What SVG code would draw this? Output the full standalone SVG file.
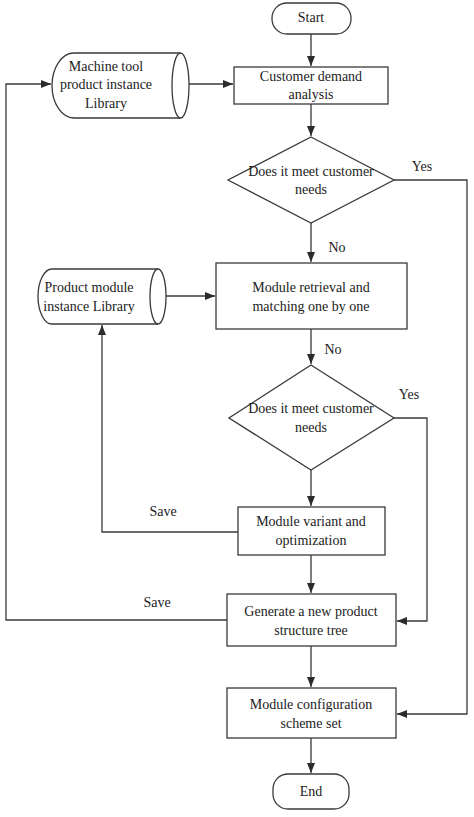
<svg xmlns="http://www.w3.org/2000/svg" width="474" height="817" viewBox="0 0 474 817" font-family="'Liberation Serif', 'Times New Roman', serif">
<style>
.s{fill:#fff;stroke:#3a3a3a;stroke-width:1.3}
.c{fill:none;stroke:#3a3a3a;stroke-width:1.3}
.t{font-family:"Liberation Serif","Times New Roman",serif;font-size:14px;fill:#222;text-anchor:middle}
</style>
<defs>
<marker id="ah" viewBox="0 0 10 8" refX="10" refY="4" markerWidth="10" markerHeight="8" markerUnits="userSpaceOnUse" orient="auto">
<path d="M0,0 L10,4 L0,8 z" fill="#2b2b2b"/>
</marker>
</defs>
<rect width="474" height="817" fill="#fff"/>
<g id="connectors">
<path class="c" d="M311,34 V66" marker-end="url(#ah)"/>
<path class="c" d="M189,84 H233" marker-end="url(#ah)"/>
<path class="c" d="M311,104 V136" marker-end="url(#ah)"/>
<path class="c" d="M311,223 V262" marker-end="url(#ah)"/>
<path class="c" d="M166,296 H215" marker-end="url(#ah)"/>
<path class="c" d="M311,329 V364" marker-end="url(#ah)"/>
<path class="c" d="M311,470 V506" marker-end="url(#ah)"/>
<path class="c" d="M311,555 V593" marker-end="url(#ah)"/>
<path class="c" d="M311,646 V687" marker-end="url(#ah)"/>
<path class="c" d="M311,738 V773" marker-end="url(#ah)"/>
<path class="c" d="M394,180 H467 V714 H397" marker-end="url(#ah)"/>
<path class="c" d="M394,418 H427 V621 H397" marker-end="url(#ah)"/>
<path class="c" d="M238,532 H102 V325" marker-end="url(#ah)"/>
<path class="c" d="M227,620 H6 V84 H51" marker-end="url(#ah)"/>
<text class="t" x="422" y="171">Yes</text>
<text class="t" x="337" y="252">No</text>
<text class="t" x="333" y="354">No</text>
<text class="t" x="409" y="399">Yes</text>
<text class="t" x="163" y="516">Save</text>
<text class="t" x="157" y="607">Save</text>
</g>
<g id="start">
<rect class="s" x="272" y="3" width="79" height="31" rx="15"/>
<text class="t" x="311" y="22">Start</text>
</g>
<g id="machine-lib">
<path class="s" d="M180,53 H74 A22,32.5 0 0 0 74,118 H180"/>
<ellipse class="s" cx="180.5" cy="85.5" rx="8.5" ry="32.5"/>
<text class="t" x="106" y="71">Machine tool</text>
<text class="t" x="106" y="89">product instance</text>
<text class="t" x="106" y="108">Library</text>
</g>
<g id="demand">
<rect class="s" x="234" y="67" width="154" height="37"/>
<text class="t" x="311" y="81">Customer demand</text>
<text class="t" x="311" y="99">analysis</text>
</g>
<g id="decision1">
<polygon class="s" points="311,137 394,180 311,223 228,180"/>
<text class="t" x="311" y="176">Does it meet customer</text>
<text class="t" x="311" y="194">needs</text>
</g>
<g id="module-lib">
<path class="s" d="M158,269 H52 A14,27.5 0 0 0 52,324 H158"/>
<ellipse class="s" cx="158" cy="296.5" rx="8" ry="27.5"/>
<text class="t" x="89" y="292">Product module</text>
<text class="t" x="89" y="311">instance Library</text>
</g>
<g id="retrieval">
<rect class="s" x="216" y="263" width="191" height="66"/>
<text class="t" x="311" y="292">Module retrieval and</text>
<text class="t" x="311" y="311">matching one by one</text>
</g>
<g id="decision2">
<polygon class="s" points="311,365 394,418 311,470 229,418"/>
<text class="t" x="311" y="413">Does it meet customer</text>
<text class="t" x="311" y="432">needs</text>
</g>
<g id="variant">
<rect class="s" x="238" y="507" width="147" height="48"/>
<text class="t" x="311" y="526">Module variant and</text>
<text class="t" x="311" y="545">optimization</text>
</g>
<g id="generate">
<rect class="s" x="227" y="594" width="169" height="52"/>
<text class="t" x="311" y="616">Generate a new product</text>
<text class="t" x="311" y="635">structure tree</text>
</g>
<g id="config">
<rect class="s" x="227" y="688" width="169" height="50"/>
<text class="t" x="311" y="709">Module configuration</text>
<text class="t" x="311" y="728">scheme set</text>
</g>
<g id="end">
<rect class="s" x="273" y="774" width="76" height="35" rx="15"/>
<text class="t" x="311" y="796">End</text>
</g>
</svg>
